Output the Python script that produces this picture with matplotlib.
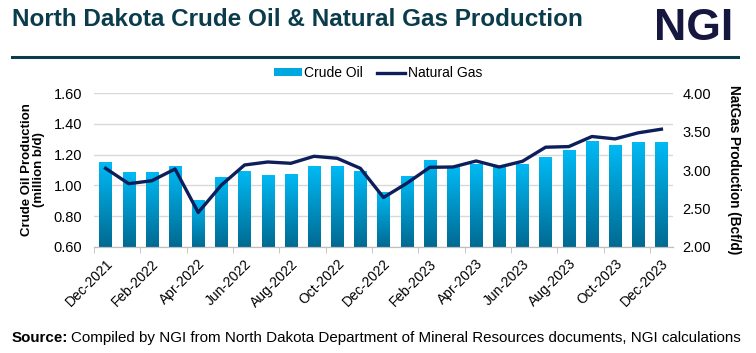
import numpy as np
import matplotlib.pyplot as plt
from matplotlib.colors import LinearSegmentedColormap
from matplotlib.patches import Rectangle
from matplotlib.lines import Line2D

plt.rcParams['font.family'] = ['Liberation Sans', 'DejaVu Sans']

months = ['Dec-2021', 'Jan-2022', 'Feb-2022', 'Mar-2022', 'Apr-2022', 'May-2022',
          'Jun-2022', 'Jul-2022', 'Aug-2022', 'Sep-2022', 'Oct-2022', 'Nov-2022',
          'Dec-2022', 'Jan-2023', 'Feb-2023', 'Mar-2023', 'Apr-2023', 'May-2023',
          'Jun-2023', 'Jul-2023', 'Aug-2023', 'Sep-2023', 'Oct-2023', 'Nov-2023',
          'Dec-2023']
crude_oil = [1.148, 1.087, 1.087, 1.120, 0.904, 1.054, 1.093, 1.067, 1.074, 1.120,
             1.120, 1.093, 0.954, 1.061, 1.159, 1.122, 1.135, 1.122, 1.133, 1.180,
             1.224, 1.283, 1.257, 1.276, 1.276]
nat_gas = [3.022, 2.822, 2.861, 3.013, 2.448, 2.804, 3.065, 3.104, 3.087, 3.178,
           3.152, 3.022, 2.643, 2.826, 3.035, 3.039, 3.117, 3.039, 3.113, 3.296,
           3.304, 3.435, 3.404, 3.483, 3.530]

W, H = 756, 353
fig = plt.figure(figsize=(W / 100, H / 100), dpi=100)
fig.patch.set_facecolor('white')

teal = '#0B3C4C'
navy = '#0D1E5B'
grad = LinearSegmentedColormap.from_list('bar', ['#006A92', '#00B9F4'])

# header
fig.text(12 / W, 1 - 20 / H, 'North Dakota Crude Oil & Natural Gas Production',
         fontsize=17.5, fontweight='bold', color=teal, va='center', ha='left')
fig.text(733 / W, 1 - 29 / H, 'NGI', fontsize=32, fontweight='bold', color='#15173F',
         va='center', ha='right')
fig.add_artist(Line2D([12 / W, 738 / W], [1 - 57 / H, 1 - 57 / H], color=teal, lw=2.2))

# axes in pixel layout
x0, x1, y0, y1 = 94, 673, 93, 247
ax = fig.add_axes([x0 / W, 1 - y1 / H, (x1 - x0) / W, (y1 - y0) / H])
ax2 = ax.twinx()

x = np.arange(len(months))
bars = ax.bar(x, crude_oil, width=0.53, color='none', zorder=2)
g = np.linspace(0, 1, 100).reshape(-1, 1)
for b in bars:
    bx, by = b.get_x(), b.get_y()
    ax.imshow(g, extent=[bx, bx + b.get_width(), 0.6, by + b.get_height()],
              origin='lower', cmap=grad, aspect='auto', zorder=2)

ax.set_xlim(-0.5, len(months) - 0.5)
ax.set_ylim(0.6, 1.6)
ax.set_yticks(np.arange(0.6, 1.61, 0.2))
ax.set_yticklabels([f'{v:.2f}' for v in np.arange(0.6, 1.61, 0.2)])
ax.grid(axis='y', color='#D9D9D9', lw=1, zorder=0)
ax.set_axisbelow(True)

ax.set_xticks(x[::2])
ax.set_xticklabels(months[::2], rotation=45, ha='right', rotation_mode='anchor')
ax.set_xticks(np.arange(-0.5, len(months) - 1, 2), minor=True)
ax.tick_params(axis='x', which='major', length=0, pad=7, labelsize=10, colors='#000000')
ax.tick_params(axis='x', which='minor', length=4, color='#BFBFBF')
ax.tick_params(axis='y', length=0, labelsize=10.5, pad=8.5)

ax2.plot(x, nat_gas, color=navy, lw=2.4, zorder=3)
ax2.set_ylim(2.0, 4.0)
ax2.set_yticks(np.arange(2.0, 4.01, 0.5))
ax2.set_yticklabels([f'{v:.2f}' for v in np.arange(2.0, 4.01, 0.5)])
ax2.tick_params(axis='y', length=0, labelsize=10.5, pad=7)

for a in (ax, ax2):
    for s in ('top', 'left', 'right'):
        a.spines[s].set_visible(False)
    a.spines['bottom'].set_color('#BFBFBF')

ax.set_ylabel('Crude Oil Production\n(million b/d)', fontsize=9.5, fontweight='bold',
              linespacing=1.05)
ax.yaxis.set_label_coords((45 - x0) / (x1 - x0), 0.5)
ax2.set_ylabel('NatGas Production (Bcf/d)', fontsize=9.8, fontweight='bold',
               rotation=-90, va='center')
ax2.yaxis.set_label_coords((734 - x0) / (x1 - x0), 0.5)

# legend
handles = [Rectangle((0, 0), 1, 1, facecolor='#00A8E0'),
           Line2D([], [], color=navy, lw=2.4)]
fig.legend(handles, ['Crude Oil', 'Natural Gas'], loc='center',
           bbox_to_anchor=(378 / W, 1 - 73 / H), ncol=2, frameon=False,
           fontsize=10, handlelength=2.0, handleheight=0.5, columnspacing=1.0,
           handletextpad=0.2)

# source
src = fig.text(12 / W, 1 - 338 / H, 'Source:', fontsize=10.9, fontweight='bold',
               va='center', ha='left')
fig.canvas.draw()
bb = src.get_window_extent()
fig.text((bb.x1 + 3) / W, 1 - 338 / H, 'Compiled by NGI from North Dakota Department '
         'of Mineral Resources documents, NGI calculations', fontsize=10.9,
         va='center', ha='left')

fig.savefig('out.png', dpi=100)
